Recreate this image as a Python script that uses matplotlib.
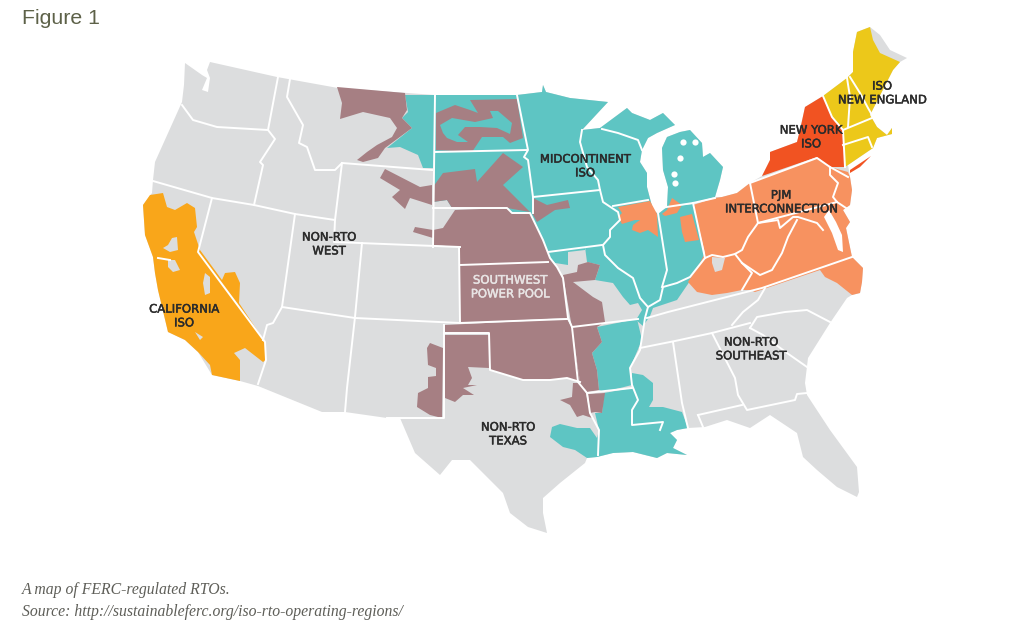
import matplotlib
matplotlib.use("Agg")
import matplotlib.pyplot as plt
import matplotlib.patheffects as pe

# all outlines, x/y in picture pixels
us_outline = [(210,62),(277,77),(338,88),(435,95),(517,95),(542,92),(543,85),(546,92),(570,98),(608,102),(582,130),(600,128),(627,108),(632,113),(650,120),(663,113),(675,125),(657,133),(648,138),(642,150),(640,162),(647,173),(647,187),(653,210),(658,214),(667,207),(668,187),(663,170),(662,148),(667,137),(680,132),(690,130),(702,143),(703,157),(710,153),(723,167),(720,180),(715,197),(722,197),(737,193),(750,183),(762,176),(770,160),(770,152),(797,142),(800,130),(805,107),(823,96),(847,78),(853,72),(853,52),(857,32),(870,27),(880,35),(890,50),(907,58),(900,62),(893,70),(870,115),(877,127),(887,135),(892,128),(892,134),(877,138),(873,148),(848,165),(850,177),(852,190),(850,205),(843,210),(850,222),(846,228),(852,257),(863,268),(862,282),(860,293),(852,295),(847,298),(830,323),(808,358),(805,383),(807,395),(830,430),(857,467),(859,492),(857,497),(837,487),(817,470),(803,457),(797,433),(770,415),(750,428),(727,420),(705,427),(688,428),(677,430),(670,433),(677,440),(673,448),(687,455),(667,453),(657,458),(633,452),(613,453),(597,457),(587,458),(585,463),(560,483),(543,498),(543,513),(547,533),(528,527),(510,513),(503,493),(487,477),(470,460),(452,460),(440,475),(415,453),(400,418),(387,418),(345,412),(322,412),(258,386),(240,381),(212,375),(198,352),(185,340),(168,332),(158,290),(155,273),(153,257),(145,235),(143,205),(152,193),(153,180),(155,162),(182,102),(184,85),(185,63),(202,75),(207,78),(202,90),(208,92),(210,78),(207,70)]

california = [(143,205),(150,195),(163,193),(167,207),(175,210),(187,203),(195,208),(197,227),(194,232),(200,250),(222,280),(225,273),(235,272),(240,283),(239,303),(265,342),(266,360),(263,362),(245,348),(234,353),(240,360),(240,381),(212,375),(210,365),(198,352),(185,340),(168,332),(158,290),(155,273),(153,257),(145,235)]
california_holes = [
    [(172,238),(177,237),(178,250),(170,252),(163,248),(168,245)],
    [(168,260),(175,260),(180,270),(173,272),(168,267)],
    [(205,273),(210,277),(210,293),(205,295),(203,283)],
    [(195,332),(203,337),(200,340)],
]

miso_upper = [(405,95),(435,95),(517,95),(542,92),(543,85),(546,92),(570,98),(608,102),(582,130),(600,128),(627,108),(632,113),(650,120),(663,113),(675,125),(657,133),(648,138),(642,150),(640,162),(647,173),(647,187),(653,210),(658,214),(667,207),(693,204),(705,258),(697,268),(690,281),(677,300),(653,308),(650,316),(643,326),(636,320),(642,310),(638,303),(630,305),(623,297),(613,283),(595,280),(600,265),(587,262),(585,247),(585,250),(568,252),(568,265),(555,263),(550,258),(543,240),(530,213),(512,213),(507,208),(452,208),(447,200),(433,202),(433,168),(423,168),(418,155),(400,147),(387,148),(412,128),(402,118),(408,112)]
miso_michigan = [(690,130),(680,132),(667,137),(662,148),(663,170),(668,187),(667,207),(693,203),(715,197),(720,180),(723,167),(710,153),(703,157),(702,143)]
miso_arkansas = [(597,327),(637,319),(638,323),(642,340),(630,368),(632,385),(604,392),(599,390),(597,370),(592,353),(602,342)]
miso_south = [(604,393),(632,388),(632,373),(643,375),(653,383),(653,400),(649,407),(663,407),(682,412),(688,428),(677,430),(670,433),(677,440),(673,448),(687,455),(667,453),(657,458),(633,452),(613,453),(597,457),(587,458),(575,450),(563,447),(550,437),(552,427),(560,424),(577,428),(590,428),(597,438),(599,430),(595,413),(602,413)]
miso_nd_inlay = [(440,125),(452,118),(475,122),(493,118),(490,111),(498,111),(512,123),(510,134),(497,128),(480,127),(465,127),(458,135),(468,142),(457,142),(447,138),(443,133)]

spp_montana = [(337,87),(405,93),(407,110),(402,118),(412,128),(385,148),(378,158),(363,162),(357,160),(367,152),(377,145),(392,137),(397,128),(390,118),(363,112),(340,119),(342,103)]
spp_nd = [(436,113),(455,105),(470,110),(478,113),(470,100),(517,99),(523,138),(510,143),(503,137),(482,137),(472,152),(436,150)]
spp_sd = [(433,187),(443,173),(475,169),(477,182),(503,153),(523,167),(503,185),(530,212),(507,208),(452,208),(447,200),(433,202)]
spp_wy = [(380,178),(385,169),(420,187),(432,185),(432,205),(410,198),(405,209),(392,197),(400,190)]
spp_ne_ks = [(455,210),(507,208),(512,213),(530,213),(543,240),(550,258),(557,267),(563,278),(568,318),(460,323),(459,247),(433,245),(433,238),(413,232),(415,227),(433,230),(443,228)]
spp_iowa = [(533,198),(547,205),(568,200),(570,208),(555,210),(537,222),(532,213)]
spp_mo_ar = [(563,275),(577,272),(578,265),(588,262),(600,265),(595,280),(573,282),(593,297),(602,302),(605,322),(597,327),(602,342),(592,353),(597,370),(599,390),(587,392),(580,382),(572,328)]
spp_ok = [(445,325),(567,319),(572,328),(580,382),(567,378),(550,380),(523,380),(500,373),(490,370),(489,334),(445,333)]
spp_panhandle = [(444,335),(489,335),(489,368),(468,367),(472,378),(468,385),(477,385),(463,388),(474,395),(463,395),(455,402),(445,398)]
spp_nm = [(430,343),(443,348),(442,418),(430,415),(417,407),(418,393),(428,388),(428,377),(436,376),(436,368),(428,365),(427,348)]
spp_tx = [(573,383),(583,383),(586,393),(590,413),(592,418),(583,415),(577,417),(570,405),(560,400),(572,397)]
spp_la = [(588,394),(605,393),(602,413),(595,412),(590,413)]

pjm_main = [(693,205),(715,198),(722,197),(737,193),(750,183),(817,158),(830,167),(848,172),(850,177),(852,190),(850,205),(843,210),(850,222),(846,228),(852,257),(863,268),(862,282),(860,293),(852,295),(837,283),(825,277),(820,270),(755,292),(750,290),(742,290),(727,293),(712,295),(697,292),(688,282),(700,263),(705,253)]
pjm_kentucky_hole = [(712,263),(712,257),(725,258),(722,270),(715,272)]
pjm_chicago = [(618,207),(650,201),(657,214),(658,237),(648,230),(640,233),(632,230),(633,225),(640,220),(635,220),(622,224),(618,217),(622,213)]
pjm_nw_indiana = [(662,214),(667,210),(672,198),(682,205),(677,213),(665,216)]
pjm_indiana = [(680,217),(692,214),(699,240),(685,242),(682,232)]
chesapeake = [(824,217),(832,233),(838,250),(843,252),(842,235),(836,222),(829,210)]

new_york = [(823,96),(832,117),(843,130),(845,167),(830,167),(817,157),(762,176),(770,160),(770,152),(797,142),(800,130),(805,107)]
long_island = [(850,170),(871,156),(860,167),(850,173)]
new_england = [(823,96),(847,78),(853,72),(853,52),(857,32),(870,27),(873,40),(880,53),(900,62),(893,70),(870,115),(877,127),(887,135),(892,128),(892,134),(877,138),(873,148),(848,165),(845,167),(843,130),(832,117)]

state_lines = [
    [(278,77),(268,130)],
    [(182,105),(193,120),(217,127),(268,130),(275,139),(260,162),(263,165),(254,205)],
    [(153,181),(212,198),(254,205),(295,214),(335,220)],
    [(290,79),(287,97),(303,125),(299,143),(307,147),(315,170),(335,170),(342,163),(432,170)],
    [(342,163),(335,220),(334,242),(460,247)],
    [(212,198),(198,252),(265,342),(266,360),(258,384)],
    [(362,243),(355,317),(347,388),(345,412)],
    [(295,214),(282,307),(273,323),(267,325),(263,340)],
    [(282,307),(355,318),(460,323)],
    [(435,95),(433,247)],
    [(459,247),(460,323)],
    [(460,323),(567,319)],
    [(445,333),(489,333),(490,370),(500,373),(523,380),(550,380),(567,378),(580,382)],
    [(444,325),(444,418),(387,418)],
    [(460,265),(548,262)],
    [(433,208),(507,208),(512,213),(530,213),(543,240),(550,258),(557,267),(563,278),(568,318),(572,327),(578,382),(587,393),(590,413),(599,430),(598,455)],
    [(435,152),(527,150)],
    [(517,95),(528,150),(524,157),(528,160),(533,197),(533,213)],
    [(533,197),(600,190)],
    [(582,130),(580,142),(587,167),(598,180),(600,190),(603,202),(618,212),(620,220),(610,230),(610,237),(603,245),(605,255),(618,268),(633,278),(640,298),(648,307),(645,318),(640,350),(630,368),(632,385),(638,400),(632,410),(632,425),(663,422),(660,430)],
    [(602,129),(618,133),(638,140),(642,150)],
    [(613,206),(648,200)],
    [(548,252),(602,245)],
    [(658,213),(667,270),(662,287)],
    [(648,307),(660,300),(663,287),(677,283),(690,277),(705,258),(712,255),(723,257),(735,254),(742,250),(748,237),(758,223)],
    [(660,208),(693,203),(715,198)],
    [(693,203),(705,258)],
    [(750,183),(817,158),(830,167),(830,175),(838,183),(833,197),(837,202),(846,208)],
    [(750,183),(758,223),(778,220),(780,228),(793,217),(798,217),(817,223),(823,230)],
    [(758,223),(837,202)],
    [(797,220),(788,237),(782,253),(772,270),(760,275),(742,263),(735,254)],
    [(742,263),(752,273),(742,290)],
    [(647,318),(668,312),(762,288),(852,257)],
    [(640,348),(675,341),(712,333),(750,323)],
    [(765,288),(758,300),(743,312),(732,325)],
    [(750,328),(757,317),(785,312),(807,310),(830,322)],
    [(750,328),(763,335),(787,353),(807,367)],
    [(712,333),(735,378),(738,395),(747,410),(795,400),(797,394),(807,393)],
    [(698,415),(742,405)],
    [(698,415),(703,427)],
    [(673,342),(682,403),(688,428)],
    [(830,167),(848,177)],
    [(572,327),(638,319)],
    [(587,393),(632,388)],
    [(823,96),(832,117),(843,130),(845,167)],
    [(847,78),(850,97),(848,127)],
    [(850,77),(860,93),(868,108),(872,115)],
    [(843,130),(872,118)],
    [(843,145),(868,137),(872,147)],
    [(158,258),(170,260)],
]

lake_spots_x = [680, 674, 675, 683, 695]
lake_spots_y = [158, 174, 183, 142, 142]

region_labels = ["ISO\nNEW ENGLAND", "NEW YORK\nISO", "PJM\nINTERCONNECTION", "MIDCONTINENT\nISO",
                 "NON-RTO\nWEST", "SOUTHWEST\nPOWER POOL", "CALIFORNIA\nISO", "NON-RTO\nSOUTHEAST", "NON-RTO\nTEXAS"]
label_x = [882, 811, 781, 585, 329, 510, 184, 751, 508]
label_y = [93, 137, 202, 166, 244, 287, 316, 349, 434]
label_color = ["#2b2b2b"] * 5 + ["#e8e4e4"] + ["#2b2b2b"] * 3

GRAY = "#dcddde"
TEAL = "#5ec5c3"
BROWN = "#a67f83"
PJM = "#f79260"
ORANGE = "#f9a61a"
NY = "#f15322"
NE = "#ecc81a"

fig = plt.figure(figsize=(10.24, 6.30), dpi=100)
ax = fig.add_axes([0, 0, 1, 1])
ax.set_xlim(0, 1024)
ax.set_ylim(630, 0)
ax.axis("off")


def fill(points, color, z=1):
    xs, ys = zip(*points)
    ax.fill(xs, ys, color=color, lw=0, zorder=z)


fill(us_outline, GRAY)
fill(california, ORANGE, 2)
for hole in california_holes:
    fill(hole, GRAY, 3)
for shape in [miso_upper, miso_michigan, miso_arkansas, miso_south]:
    fill(shape, TEAL, 2)
for shape in [spp_montana, spp_nd, spp_sd, spp_wy, spp_ne_ks, spp_iowa, spp_mo_ar, spp_ok, spp_panhandle, spp_nm, spp_tx, spp_la]:
    fill(shape, BROWN, 3)
fill(miso_nd_inlay, TEAL, 4)
for shape in [pjm_main, pjm_chicago, pjm_nw_indiana, pjm_indiana]:
    fill(shape, PJM, 4)
fill(pjm_kentucky_hole, GRAY, 5)
fill(chesapeake, "white", 5)
fill(new_york, NY, 4)
fill(long_island, NY, 4)
fill(new_england, NE, 4)

for line in state_lines:
    xs, ys = zip(*line)
    ax.plot(xs, ys, color="white", lw=1.4, solid_joinstyle="round", zorder=6)
ax.scatter(lake_spots_x, lake_spots_y, s=20, color="white", lw=0, zorder=6)

for text, x, y, c in zip(region_labels, label_x, label_y, label_color):
    ax.text(x, y, text, ha="center", va="center", multialignment="center", fontsize=8.4, color=c,
            linespacing=1.08, zorder=7, path_effects=[pe.withStroke(linewidth=0.35, foreground=c)])

ax.text(22, 18, "Figure 1", family="Liberation Sans", fontsize=15.3, color="#5d6148", va="center")
ax.text(22, 590, "A map of FERC-regulated RTOs.", family="Liberation Serif", style="italic", fontsize=11.3, color="#5e5e58", va="center")
ax.text(22, 612, "Source: http://sustainableferc.org/iso-rto-operating-regions/", family="Liberation Serif", style="italic", fontsize=11.3, color="#5e5e58", va="center")

fig.savefig("out.png", dpi=100)
